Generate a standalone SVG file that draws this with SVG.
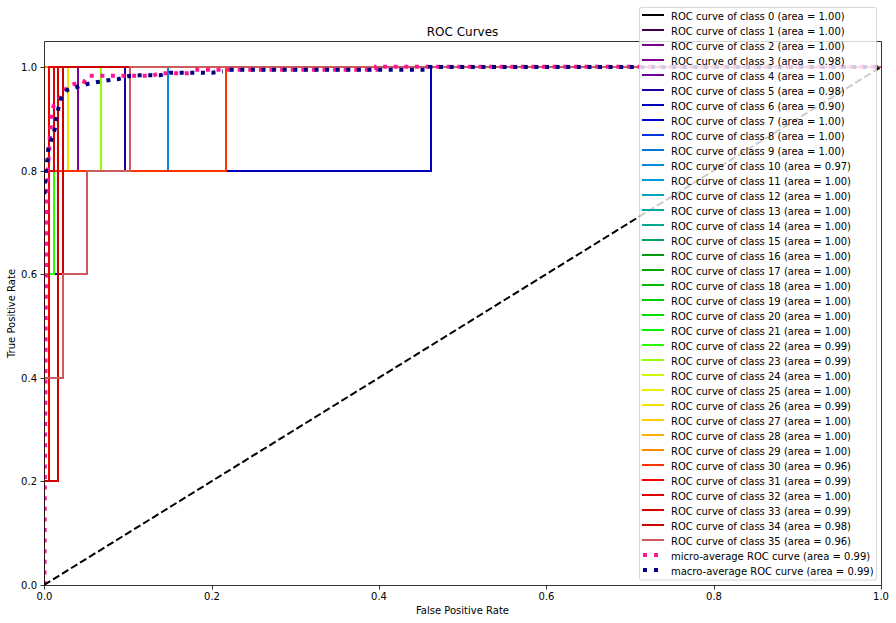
<svg xmlns="http://www.w3.org/2000/svg" width="896" height="623" viewBox="0 0 896 623">
<style>
text{font-family:"DejaVu Sans",sans-serif;font-size:10px;fill:#000}
.c{fill:none;stroke-width:2;stroke-linejoin:miter}
.mi{fill:none;stroke:#ff1493;stroke-width:4;stroke-dasharray:4 6.6}
.ma{fill:none;stroke:#000080;stroke-width:4;stroke-dasharray:4 6.6}
.sp{fill:none;stroke:#000;stroke-width:.8}
.lt{text-anchor:start}
.ym{text-anchor:end}
.xm{text-anchor:middle}
</style>
<defs><clipPath id="ax"><rect x="44" y="41" width="838" height="545"/></clipPath></defs>
<rect width="896" height="623" fill="#fff"/>
<g id="curves" clip-path="url(#ax)">
<path class="c" stroke="#000000" d="M44 585V67H881"/>
<path class="c" stroke="#42004c" d="M44 585V67H881"/>
<path class="c" stroke="#79008a" d="M44 585V67H881"/>
<path class="c" stroke="#820093" d="M44 585V171H78V67H881"/>
<path class="c" stroke="#6a009d" d="M44 585V67H881"/>
<path class="c" stroke="#1e00a6" d="M44 585V274H58V171H125V67H881"/>
<path class="c" stroke="#0000bb" d="M44 585V171H431V67H881"/>
<path class="c" stroke="#0000d7" d="M44 585V67H881"/>
<path class="c" stroke="#0035dd" d="M44 585V67H881"/>
<path class="c" stroke="#0077dd" d="M44 585V67H881"/>
<path class="c" stroke="#008add" d="M44 585V171H168V67H881"/>
<path class="c" stroke="#009bd7" d="M44 585V67H881"/>
<path class="c" stroke="#00a4bb" d="M44 585V67H881"/>
<path class="c" stroke="#00aaa2" d="M44 585V67H881"/>
<path class="c" stroke="#00aa90" d="M44 585V67H881"/>
<path class="c" stroke="#00a45b" d="M44 585V67H881"/>
<path class="c" stroke="#009b0f" d="M44 585V67H881"/>
<path class="c" stroke="#00a800" d="M44 585V67H881"/>
<path class="c" stroke="#00bb00" d="M44 585V67H881"/>
<path class="c" stroke="#00ce00" d="M44 585V67H881"/>
<path class="c" stroke="#00e100" d="M44 585V67H881"/>
<path class="c" stroke="#00f400" d="M44 585V67H881"/>
<path class="c" stroke="#2aff00" d="M44 585V274H54V67H881"/>
<path class="c" stroke="#91ff00" d="M44 585V171H101V67H881"/>
<path class="c" stroke="#ccf900" d="M44 585V67H881"/>
<path class="c" stroke="#e8f000" d="M44 585V67H881"/>
<path class="c" stroke="#f6df00" d="M44 585V171H68V67H881"/>
<path class="c" stroke="#ffcc00" d="M44 585V67H881"/>
<path class="c" stroke="#ffb000" d="M44 585V67H881"/>
<path class="c" stroke="#ff8800" d="M44 585V67H881"/>
<path class="c" stroke="#ff3300" d="M44 585V171H226V67H881"/>
<path class="c" stroke="#f70000" d="M44 585V481H49V67H881"/>
<path class="c" stroke="#e50000" d="M44 585V171H54V67H881"/>
<path class="c" stroke="#d70000" d="M44 585V481H58V67H881"/>
<path class="c" stroke="#ce0000" d="M44 585V481H58V274H63V67H881"/>
<path class="c" stroke="#cc5b5b" d="M44 585V378H63V274H87V171H130V67H881"/>
<path class="mi" d="M44.5 585L44.8 480L45.5 378L45.8 300L46.7 193L47.7 173L49 154L50 133L51.3 122.7L51.7 113L54 105L59 99.3L63.3 93.3L67.3 86.7L82.3 81L84 81.7L88 75.7H152L159.3 73.3H190"/>
<path class="mi" d="M195.3 69.7H376V66.7H881"/>
<path class="ma" d="M44.2 194L44.7 191.7L45.3 181L46 170.7L47.3 160L48.3 149L51.3 139.3L54.7 129.3L56.3 119L58.3 108.7L61 98.3L67 90L77.3 87L87.3 84L97.7 82L108 80.3L118.7 79L129 76L139.3 75.3H160.3L170 72.7H212.3L222.7 71.3"/>
<path class="ma" d="M229.7 69.7H430V67H881"/>
<path fill="none" stroke="#000" stroke-width="2" stroke-dasharray="7.4 3.2" d="M44 585L881 67"/>
</g>
<g id="axes">
<path class="sp" d="M44.5 41.5V585.5H881.5V41.5H44.5"/>
<path class="sp" d="M40.5 67.5H44M40.5 171.5H44M40.5 274.5H44M40.5 378.5H44M40.5 481.5H44M40.5 585.5H44M44.5 586V589.5M212.5 586V589.5M379.5 586V589.5M546.5 586V589.5M714.5 586V589.5M881.5 586V589.5"/>
<text class="ym" x="37" y="71">1.0</text>
<text class="ym" x="37" y="175">0.8</text>
<text class="ym" x="37" y="278">0.6</text>
<text class="ym" x="37" y="382">0.4</text>
<text class="ym" x="37" y="485">0.2</text>
<text class="ym" x="37" y="589">0.0</text>
<text class="xm" x="44.5" y="600">0.0</text>
<text class="xm" x="212" y="600">0.2</text>
<text class="xm" x="379" y="600">0.4</text>
<text class="xm" x="546.5" y="600">0.6</text>
<text class="xm" x="714" y="600">0.8</text>
<text class="xm" x="881" y="600">1.0</text>
<text class="xm" x="462.5" y="614">False Positive Rate</text>
<text class="xm" transform="translate(15 313.5) rotate(-90)">True Positive Rate</text>
<text class="xm" x="462.5" y="36" style="font-size:12px">ROC Curves</text>
</g>
<g id="legend">
<rect x="639.5" y="7.5" width="237" height="572.5" rx="2" fill="#fff" fill-opacity=".8" stroke="#ccc" stroke-opacity=".8"/>
<g fill="none" stroke-width="2">
<path stroke="#000000" d="M642 15h22"/>
<path stroke="#42004c" d="M642 30h22"/>
<path stroke="#79008a" d="M642 45h22"/>
<path stroke="#820093" d="M642 60h22"/>
<path stroke="#6a009d" d="M642 75h22"/>
<path stroke="#1e00a6" d="M642 90h22"/>
<path stroke="#0000bb" d="M642 105h22"/>
<path stroke="#0000d7" d="M642 120h22"/>
<path stroke="#0035dd" d="M642 135h22"/>
<path stroke="#0077dd" d="M642 150h22"/>
<path stroke="#008add" d="M642 165h22"/>
<path stroke="#009bd7" d="M642 180h22"/>
<path stroke="#00a4bb" d="M642 195h22"/>
<path stroke="#00aaa2" d="M642 210h22"/>
<path stroke="#00aa90" d="M642 225h22"/>
<path stroke="#00a45b" d="M642 240h22"/>
<path stroke="#009b0f" d="M642 255h22"/>
<path stroke="#00a800" d="M642 270h22"/>
<path stroke="#00bb00" d="M642 285h22"/>
<path stroke="#00ce00" d="M642 300h22"/>
<path stroke="#00e100" d="M642 315h22"/>
<path stroke="#00f400" d="M642 330h22"/>
<path stroke="#2aff00" d="M642 345h22"/>
<path stroke="#91ff00" d="M642 360h22"/>
<path stroke="#ccf900" d="M642 375h22"/>
<path stroke="#e8f000" d="M642 390h22"/>
<path stroke="#f6df00" d="M642 405h22"/>
<path stroke="#ffcc00" d="M642 420h22"/>
<path stroke="#ffb000" d="M642 435h22"/>
<path stroke="#ff8800" d="M642 450h22"/>
<path stroke="#ff3300" d="M642 465h22"/>
<path stroke="#f70000" d="M642 480h22"/>
<path stroke="#e50000" d="M642 495h22"/>
<path stroke="#d70000" d="M642 510h22"/>
<path stroke="#ce0000" d="M642 525h22"/>
<path stroke="#cc5b5b" d="M642 540h22"/>
</g>
<path class="mi" style="stroke-dasharray:4 7" d="M643 555h15"/>
<path class="ma" style="stroke-dasharray:4 7" d="M643 570h15"/>
<text class="lt" x="671" y="20">ROC curve of class 0 (area = 1.00)</text>
<text class="lt" x="671" y="35">ROC curve of class 1 (area = 1.00)</text>
<text class="lt" x="671" y="50">ROC curve of class 2 (area = 1.00)</text>
<text class="lt" x="671" y="65">ROC curve of class 3 (area = 0.98)</text>
<text class="lt" x="671" y="80">ROC curve of class 4 (area = 1.00)</text>
<text class="lt" x="671" y="95">ROC curve of class 5 (area = 0.98)</text>
<text class="lt" x="671" y="110">ROC curve of class 6 (area = 0.90)</text>
<text class="lt" x="671" y="125">ROC curve of class 7 (area = 1.00)</text>
<text class="lt" x="671" y="140">ROC curve of class 8 (area = 1.00)</text>
<text class="lt" x="671" y="155">ROC curve of class 9 (area = 1.00)</text>
<text class="lt" x="671" y="170">ROC curve of class 10 (area = 0.97)</text>
<text class="lt" x="671" y="185">ROC curve of class 11 (area = 1.00)</text>
<text class="lt" x="671" y="200">ROC curve of class 12 (area = 1.00)</text>
<text class="lt" x="671" y="215">ROC curve of class 13 (area = 1.00)</text>
<text class="lt" x="671" y="230">ROC curve of class 14 (area = 1.00)</text>
<text class="lt" x="671" y="245">ROC curve of class 15 (area = 1.00)</text>
<text class="lt" x="671" y="260">ROC curve of class 16 (area = 1.00)</text>
<text class="lt" x="671" y="275">ROC curve of class 17 (area = 1.00)</text>
<text class="lt" x="671" y="290">ROC curve of class 18 (area = 1.00)</text>
<text class="lt" x="671" y="305">ROC curve of class 19 (area = 1.00)</text>
<text class="lt" x="671" y="320">ROC curve of class 20 (area = 1.00)</text>
<text class="lt" x="671" y="335">ROC curve of class 21 (area = 1.00)</text>
<text class="lt" x="671" y="350">ROC curve of class 22 (area = 0.99)</text>
<text class="lt" x="671" y="365">ROC curve of class 23 (area = 0.99)</text>
<text class="lt" x="671" y="380">ROC curve of class 24 (area = 1.00)</text>
<text class="lt" x="671" y="395">ROC curve of class 25 (area = 1.00)</text>
<text class="lt" x="671" y="410">ROC curve of class 26 (area = 0.99)</text>
<text class="lt" x="671" y="425">ROC curve of class 27 (area = 1.00)</text>
<text class="lt" x="671" y="440">ROC curve of class 28 (area = 1.00)</text>
<text class="lt" x="671" y="455">ROC curve of class 29 (area = 1.00)</text>
<text class="lt" x="671" y="470">ROC curve of class 30 (area = 0.96)</text>
<text class="lt" x="671" y="485">ROC curve of class 31 (area = 0.99)</text>
<text class="lt" x="671" y="500">ROC curve of class 32 (area = 1.00)</text>
<text class="lt" x="671" y="515">ROC curve of class 33 (area = 0.99)</text>
<text class="lt" x="671" y="530">ROC curve of class 34 (area = 0.98)</text>
<text class="lt" x="671" y="545">ROC curve of class 35 (area = 0.96)</text>
<text class="lt" x="671" y="560">micro-average ROC curve (area = 0.99)</text>
<text class="lt" x="671" y="575">macro-average ROC curve (area = 0.99)</text>
</g>
</svg>
